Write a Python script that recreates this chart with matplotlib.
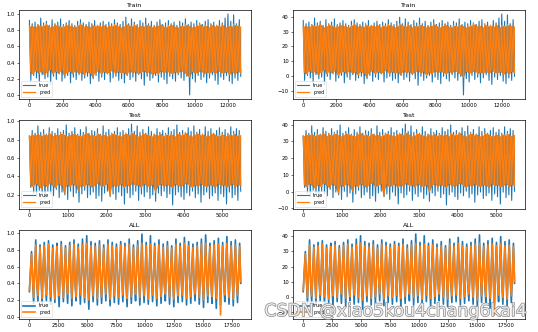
import matplotlib
matplotlib.use("Agg")
import matplotlib.pyplot as plt
import matplotlib.patheffects as pe
import numpy as np

# sample counts of each split
n_train = 12750
n_test = 5480
n_all = 18250

# inverse scaling of the normalised target (left column) to degrees (right column)
t_min = -13.0
t_max = 42.0

# Train split: alternating high / low samples (shuffled windows)
train_true_hi = [
    0.92, 0.88, 0.90, 0.87, 0.95, 0.89, 0.91, 0.86, 0.93, 0.88,
    0.90, 0.94, 0.87, 0.89, 0.92, 0.88, 0.86, 0.91, 0.93, 0.89,
    0.87, 0.90, 0.88, 0.92, 0.86, 0.89, 0.91, 0.87, 0.90, 0.88,
    0.93, 0.89, 0.87, 0.91, 0.96, 0.88, 0.94, 0.90, 0.87, 0.92,
    0.89, 0.95, 0.88, 0.91, 0.86, 0.90, 0.93, 0.87, 0.89, 0.92,
    0.88, 0.90, 0.86, 0.91, 0.89, 0.94, 0.87, 0.90, 0.88, 0.92,
    0.89, 0.87, 0.91, 0.93, 0.88, 0.90, 0.86, 0.92, 0.89, 0.95,
    1.00, 0.91, 0.99, 0.88, 0.93,
]
train_true_lo = [
    0.18, 0.24, 0.21, 0.16, 0.25, 0.20, 0.22, 0.13, 0.23, 0.19,
    0.26, 0.17, 0.21, 0.24, 0.15, 0.22, 0.19, 0.25, 0.18, 0.21,
    0.23, 0.14, 0.20, 0.24, 0.17, 0.22, 0.19, 0.26, 0.16, 0.21,
    0.23, 0.18, 0.20, 0.15, 0.24, 0.19, 0.22, 0.17, 0.25, 0.20,
    0.12, 0.23, 0.18, 0.21, 0.24, 0.16, 0.22, 0.19, 0.14, 0.23,
    0.20, 0.17, 0.25, 0.21, 0.18, 0.23, 0.00, 0.20, 0.16, 0.24,
    0.19, 0.22, 0.15, 0.21, 0.25, 0.18, 0.13, 0.22, 0.19, 0.24,
    0.17, 0.14, 0.21, 0.18, 0.23,
]
train_pred_hi = [
    0.85, 0.86, 0.84, 0.87, 0.85, 0.86, 0.88, 0.84, 0.85, 0.87,
    0.86, 0.84, 0.85, 0.87, 0.86, 0.85, 0.84, 0.86, 0.88, 0.85,
    0.86, 0.84, 0.87, 0.85, 0.86, 0.85, 0.87, 0.84, 0.86, 0.85,
    0.87, 0.86, 0.84, 0.85, 0.88, 0.86, 0.85, 0.87, 0.84, 0.86,
    0.85, 0.87, 0.86, 0.84, 0.85, 0.86, 0.88, 0.85, 0.84, 0.86,
    0.87, 0.85, 0.84, 0.86, 0.85, 0.87, 0.86, 0.84, 0.85, 0.86,
    0.88, 0.85, 0.86, 0.84, 0.87, 0.85, 0.86, 0.85, 0.87, 0.84,
    0.86, 0.85, 0.87, 0.86, 0.85,
]
train_pred_lo = [
    0.28, 0.26, 0.30, 0.27, 0.29, 0.25, 0.28, 0.31, 0.26, 0.29,
    0.27, 0.30, 0.24, 0.28, 0.29, 0.26, 0.30, 0.27, 0.28, 0.25,
    0.29, 0.27, 0.22, 0.28, 0.30, 0.26, 0.29, 0.27, 0.28, 0.31,
    0.26, 0.29, 0.27, 0.28, 0.25, 0.30, 0.27, 0.29, 0.26, 0.28,
    0.30, 0.27, 0.29, 0.24, 0.28, 0.26, 0.30, 0.27, 0.29, 0.28,
    0.26, 0.29, 0.27, 0.30, 0.28, 0.25, 0.22, 0.29, 0.27, 0.28,
    0.30, 0.26, 0.28, 0.27, 0.29, 0.26, 0.30, 0.28, 0.27, 0.29,
    0.25, 0.28, 0.26, 0.29, 0.27,
]

# Test split
test_true_hi = [
    0.84, 0.90, 0.87, 0.95, 0.88, 0.91, 0.86, 0.93, 0.89, 0.87,
    0.92, 0.88, 0.90, 0.96, 0.87, 0.89, 0.93, 0.86, 0.91, 0.88,
    0.94, 0.87, 0.90, 0.89, 0.92, 0.86, 0.95, 0.88, 0.91, 0.87,
    0.89, 0.93, 0.88, 0.90, 0.86, 0.92, 0.97, 0.89, 0.95, 0.88,
    0.91, 0.87, 0.94, 0.89, 0.86, 0.92, 0.88, 0.90, 0.87, 0.93,
    0.89, 0.91, 0.96, 0.88, 0.90, 0.87, 0.93, 0.89, 0.95, 0.88,
    0.91, 0.86, 0.94, 0.89, 0.92, 0.87, 0.90, 0.93, 0.88, 0.91,
    0.87, 0.94, 0.89, 0.92, 0.90,
]
test_true_lo = [
    0.28, 0.22, 0.18, 0.25, 0.20, 0.16, 0.24, 0.21, 0.19, 0.26,
    0.17, 0.23, 0.20, 0.15, 0.24, 0.18, 0.22, 0.12, 0.21, 0.25,
    0.17, 0.20, 0.23, 0.16, 0.19, 0.13, 0.22, 0.24, 0.18, 0.21,
    0.15, 0.23, 0.19, 0.10, 0.22, 0.17, 0.20, 0.24, 0.14, 0.21,
    0.18, 0.23, 0.16, 0.20, 0.13, 0.22, 0.19, 0.24, 0.17, 0.21,
    0.09, 0.20, 0.23, 0.18, 0.15, 0.22, 0.19, 0.24, 0.17, 0.21,
    0.12, 0.20, 0.23, 0.16, 0.19, 0.22, 0.14, 0.21, 0.18, 0.10,
    0.23, 0.17, 0.20, 0.14, 0.24,
]
test_pred_hi = [
    0.84, 0.86, 0.85, 0.87, 0.84, 0.86, 0.85, 0.88, 0.84, 0.86,
    0.85, 0.87, 0.86, 0.84, 0.85, 0.87, 0.86, 0.85, 0.84, 0.86,
    0.88, 0.85, 0.86, 0.84, 0.87, 0.85, 0.86, 0.84, 0.85, 0.87,
    0.86, 0.85, 0.84, 0.86, 0.87, 0.85, 0.88, 0.86, 0.84, 0.85,
    0.87, 0.86, 0.85, 0.84, 0.86, 0.85, 0.87, 0.84, 0.86, 0.85,
    0.86, 0.84, 0.87, 0.85, 0.86, 0.88, 0.85, 0.84, 0.86, 0.87,
    0.85, 0.86, 0.84, 0.85, 0.87, 0.86, 0.84, 0.85, 0.86, 0.84,
    0.86, 0.85, 0.87, 0.84, 0.86,
]
test_pred_lo = [
    0.31, 0.29, 0.32, 0.30, 0.27, 0.31, 0.29, 0.33, 0.30, 0.28,
    0.32, 0.30, 0.22, 0.31, 0.29, 0.32, 0.30, 0.24, 0.31, 0.29,
    0.32, 0.30, 0.28, 0.31, 0.33, 0.29, 0.30, 0.32, 0.19, 0.31,
    0.29, 0.30, 0.32, 0.28, 0.31, 0.29, 0.33, 0.30, 0.31, 0.28,
    0.32, 0.30, 0.29, 0.31, 0.23, 0.30, 0.32, 0.29, 0.31, 0.30,
    0.28, 0.32, 0.30, 0.29, 0.31, 0.33, 0.30, 0.28, 0.31, 0.29,
    0.32, 0.30, 0.29, 0.31, 0.30, 0.28, 0.32, 0.30, 0.31, 0.29,
    0.30, 0.32, 0.29, 0.31, 0.30,
]

# Full series in time order, one entry per yearly cycle
all_true_trough = [
    0.30, 0.16, 0.18, 0.14, 0.19, 0.15, 0.17, 0.12, 0.18, 0.16,
    0.13, 0.19, 0.15, 0.17, 0.09, 0.18, 0.14, 0.16, 0.19, 0.13,
    0.17, 0.15, 0.18, 0.12, 0.16, 0.19, 0.14, 0.17, 0.15, 0.18,
    0.13, 0.16, 0.19, 0.15, 0.12, 0.17, 0.18, 0.14, 0.16, 0.19,
    0.15, 0.11, 0.17, 0.16, 0.10, 0.14, 0.18, 0.15, 0.13, 0.17,
]
all_true_rise = [
    0.55, 0.58, 0.52, 0.61, 0.56, 0.50, 0.63, 0.57, 0.54, 0.60,
    0.52, 0.59, 0.55, 0.62, 0.51, 0.57, 0.60, 0.54, 0.58, 0.53,
    0.61, 0.56, 0.52, 0.59, 0.55, 0.62, 0.57, 0.50, 0.60, 0.54,
    0.58, 0.53, 0.61, 0.56, 0.52, 0.59, 0.55, 0.63, 0.57, 0.51,
    0.60, 0.54, 0.58, 0.62, 0.53, 0.57, 0.61, 0.55, 0.59, 0.52,
]
all_true_peak = [
    0.78, 0.92, 0.86, 0.89, 0.91, 0.86, 0.88, 0.90, 0.85, 0.89,
    0.92, 0.87, 0.93, 0.97, 0.90, 0.88, 0.91, 0.86, 0.92, 0.89,
    0.87, 0.90, 0.88, 0.93, 0.86, 0.91, 0.99, 0.89, 0.97, 0.88,
    0.92, 0.87, 0.90, 0.85, 0.93, 0.88, 0.95, 0.90, 0.87, 0.89,
    0.93, 0.98, 0.88, 0.91, 0.94, 0.89, 0.96, 0.90, 0.92, 0.88,
]
all_true_fall = [
    0.45, 0.40, 0.48, 0.42, 0.50, 0.44, 0.39, 0.47, 0.43, 0.51,
    0.41, 0.46, 0.49, 0.40, 0.45, 0.52, 0.43, 0.47, 0.41, 0.48,
    0.44, 0.50, 0.39, 0.46, 0.42, 0.49, 0.45, 0.41, 0.47, 0.43,
    0.51, 0.40, 0.46, 0.48, 0.42, 0.45, 0.50, 0.44, 0.39, 0.47,
    0.43, 0.49, 0.41, 0.46, 0.48, 0.42, 0.45, 0.51, 0.44, 0.40,
]
all_pred_trough = [
    0.32, 0.23, 0.25, 0.22, 0.26, 0.24, 0.21, 0.25, 0.23, 0.27,
    0.22, 0.24, 0.26, 0.23, 0.20, 0.25, 0.22, 0.24, 0.27, 0.21,
    0.25, 0.23, 0.26, 0.22, 0.24, 0.27, 0.23, 0.25, 0.21, 0.26,
    0.22, 0.24, 0.27, 0.23, 0.21, 0.25, 0.26, 0.22, 0.24, 0.27,
    0.23, 0.20, 0.25, 0.24, 0.22, 0.02, 0.26, 0.23, 0.21, 0.25,
]
all_pred_rise = [
    0.54, 0.57, 0.52, 0.59, 0.55, 0.51, 0.60, 0.56, 0.53, 0.58,
    0.52, 0.57, 0.54, 0.60, 0.51, 0.56, 0.58, 0.53, 0.57, 0.52,
    0.59, 0.55, 0.52, 0.57, 0.54, 0.60, 0.56, 0.51, 0.58, 0.53,
    0.57, 0.52, 0.59, 0.55, 0.52, 0.57, 0.54, 0.60, 0.56, 0.51,
    0.58, 0.53, 0.57, 0.60, 0.52, 0.56, 0.59, 0.54, 0.57, 0.52,
]
all_pred_peak = [
    0.75, 0.86, 0.83, 0.85, 0.87, 0.82, 0.84, 0.86, 0.82, 0.85,
    0.87, 0.83, 0.86, 0.88, 0.85, 0.84, 0.86, 0.82, 0.87, 0.85,
    0.83, 0.86, 0.84, 0.87, 0.82, 0.86, 0.88, 0.85, 0.87, 0.84,
    0.86, 0.83, 0.85, 0.82, 0.87, 0.84, 0.88, 0.85, 0.83, 0.85,
    0.87, 0.88, 0.84, 0.86, 0.87, 0.85, 0.88, 0.85, 0.86, 0.84,
]
all_pred_fall = [
    0.46, 0.42, 0.48, 0.43, 0.50, 0.45, 0.41, 0.47, 0.44, 0.50,
    0.42, 0.46, 0.49, 0.41, 0.45, 0.51, 0.44, 0.47, 0.42, 0.48,
    0.45, 0.50, 0.41, 0.46, 0.43, 0.49, 0.45, 0.42, 0.47, 0.44,
    0.50, 0.41, 0.46, 0.48, 0.43, 0.45, 0.49, 0.44, 0.41, 0.47,
    0.44, 0.49, 0.42, 0.46, 0.48, 0.43, 0.45, 0.50, 0.44, 0.42,
]


def interleave(*parts):
    return np.column_stack(parts).ravel()


def to_degrees(v):
    return t_min + np.asarray(v, dtype=float) * (t_max - t_min)


def as_is(v):
    return np.asarray(v, dtype=float)


# (length, true sequence, pred sequence, pred envelope or None)
series = {
    "Train": (n_train,
              interleave(train_true_hi, train_true_lo),
              interleave(train_pred_hi, train_pred_lo),
              (train_pred_lo, train_pred_hi)),
    "Test": (n_test,
             interleave(test_true_hi, test_true_lo),
             interleave(test_pred_hi, test_pred_lo),
             (test_pred_lo, test_pred_hi)),
    "ALL": (n_all,
            interleave(all_true_trough, all_true_rise, all_true_peak, all_true_fall),
            interleave(all_pred_trough, all_pred_rise, all_pred_peak, all_pred_fall),
            None),
}

blue, orange = "#1f77b4", "#ff7f0e"

plt.rcParams["font.family"] = ["DejaVu Sans"]
fig, axes = plt.subplots(3, 2, figsize=(5.38, 3.32), dpi=100)
fig.subplots_adjust(left=0.035, right=0.976, top=0.970, bottom=0.039,
                    wspace=0.178, hspace=0.236)

for row, (title, (n, y_true, y_pred, band)) in enumerate(series.items()):
    x = np.linspace(0, n, len(y_true))
    for col in range(2):
        ax = axes[row, col]
        scale = to_degrees if col == 1 else as_is
        if band is None:
            ax.plot(x, scale(y_true), color=blue, lw=1.2, label="true")
            ax.plot(x, scale(y_pred), color=orange, lw=1.2, label="pred")
        else:
            # dense shuffled samples: the prediction line fills its own envelope
            ax.plot(x, scale(y_true), color=blue, lw=0.8, label="true")
            xb = np.linspace(0, n, len(band[0]))
            ax.fill_between(xb, scale(band[0]), scale(band[1]), color=orange, lw=0)
            ax.plot(x, scale(y_pred), color=orange, lw=0.9, label="pred")
        ax.set_title(title, fontsize=4.5, pad=2)
        ax.tick_params(labelsize=3.8, length=1.8, width=0.4, pad=1)
        for sp in ax.spines.values():
            sp.set_linewidth(0.5)
        if col == 0:
            ax.set_yticks([0.0, 0.2, 0.4, 0.6, 0.8, 1.0] if title != "Test"
                          else [0.2, 0.4, 0.6, 0.8, 1.0])
        else:
            ax.set_yticks([-10, 0, 10, 20, 30, 40])
        if title == "ALL":
            ax.set_xticks(np.arange(0, 17501, 2500))
        leg = ax.legend(loc="lower left", fontsize=3.5, handlelength=2.5,
                        borderpad=0.4, labelspacing=0.3, framealpha=0.8,
                        edgecolor="#cccccc", fancybox=True)
        leg.get_frame().set_linewidth(0.4)

fig.text(0.98, 0.063, "CSDN @xiao5kou4chang6kai4", ha="right", va="center",
         fontsize=12.5, color="#ececec",
         path_effects=[pe.withStroke(linewidth=1.0, foreground="#8a8a8a")])

fig.savefig("out.png", dpi=100)
